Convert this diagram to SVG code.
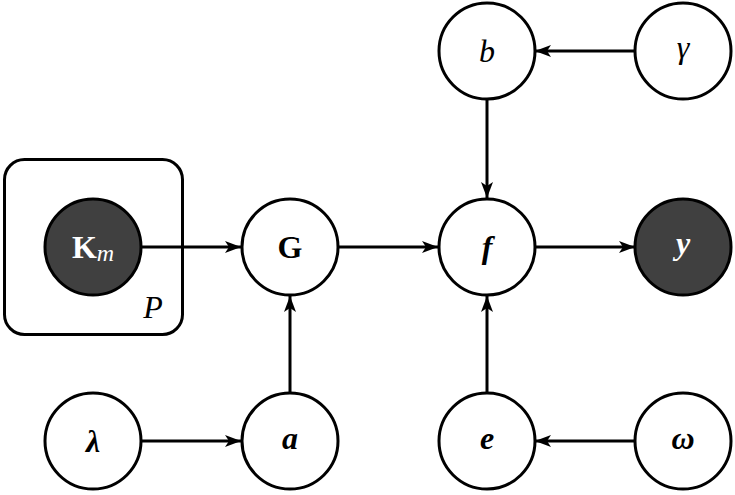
<svg xmlns="http://www.w3.org/2000/svg" width="735" height="495" viewBox="0 0 735 495">
<defs>
<marker id="arr" viewBox="0 0 16 12" refX="16" refY="6" markerWidth="16" markerHeight="12" markerUnits="userSpaceOnUse" orient="auto">
<path d="M0,0 L16,6 L0,12 L4,6 Z" fill="#000"/>
</marker>
<style>
.n{fill:#fff;stroke:#000;stroke-width:3}
.d{fill:#404040;stroke:#000;stroke-width:3}
.t{font-family:"Liberation Serif",serif;font-size:32px;text-anchor:middle;fill:#000}
.i{font-style:italic}
.b{font-weight:bold}
.w{fill:#fff}
.e{stroke:#000;stroke-width:3;fill:none;marker-end:url(#arr)}
</style>
</defs>
<rect width="735" height="495" fill="#fff"/>
<g id="plate">
<rect x="4.5" y="159.5" width="178" height="175" rx="20" ry="20" fill="none" stroke="#000" stroke-width="3"/>
<text x="153" y="318" class="t i">P</text>
</g>
<g id="connectors">
<line class="e" x1="141" y1="247" x2="241" y2="247"/>
<line class="e" x1="338" y1="247" x2="438" y2="247"/>
<line class="e" x1="535" y1="247" x2="635" y2="247"/>
<line class="e" x1="487" y1="99" x2="487" y2="198"/>
<line class="e" x1="635" y1="51" x2="535" y2="51"/>
<line class="e" x1="290" y1="393" x2="290" y2="296"/>
<line class="e" x1="487" y1="393" x2="487" y2="296"/>
<line class="e" x1="141" y1="441" x2="241" y2="441"/>
<line class="e" x1="635" y1="441" x2="535" y2="441"/>
</g>
<g id="node-Km"><circle class="d" cx="93" cy="247" r="48"/><text x="93" y="258" class="t w"><tspan class="b">K</tspan><tspan class="i" font-size="24" dy="3">m</tspan></text></g>
<g id="node-G"><circle class="n" cx="290" cy="247" r="48"/><text x="290" y="258" class="t b">G</text></g>
<g id="node-f"><circle class="n" cx="487" cy="247" r="48"/><text x="487" y="258" class="t b i">f</text></g>
<g id="node-y"><circle class="d" cx="683" cy="247" r="48"/><text x="683" y="254" class="t b i w">y</text></g>
<g id="node-b"><circle class="n" cx="487" cy="51" r="48"/><text x="487" y="62" class="t i">b</text></g>
<g id="node-gamma"><circle class="n" cx="683" cy="51" r="48"/><text x="683" y="58" class="t i">γ</text></g>
<g id="node-lambda"><circle class="n" cx="93" cy="441" r="48"/><text x="93" y="452" class="t b i">λ</text></g>
<g id="node-a"><circle class="n" cx="290" cy="441" r="48"/><text x="290" y="449" class="t b i">a</text></g>
<g id="node-e"><circle class="n" cx="487" cy="441" r="48"/><text x="487" y="449" class="t b i">e</text></g>
<g id="node-omega"><circle class="n" cx="683" cy="441" r="48"/><text x="683" y="449" class="t b i">ω</text></g>
</svg>
